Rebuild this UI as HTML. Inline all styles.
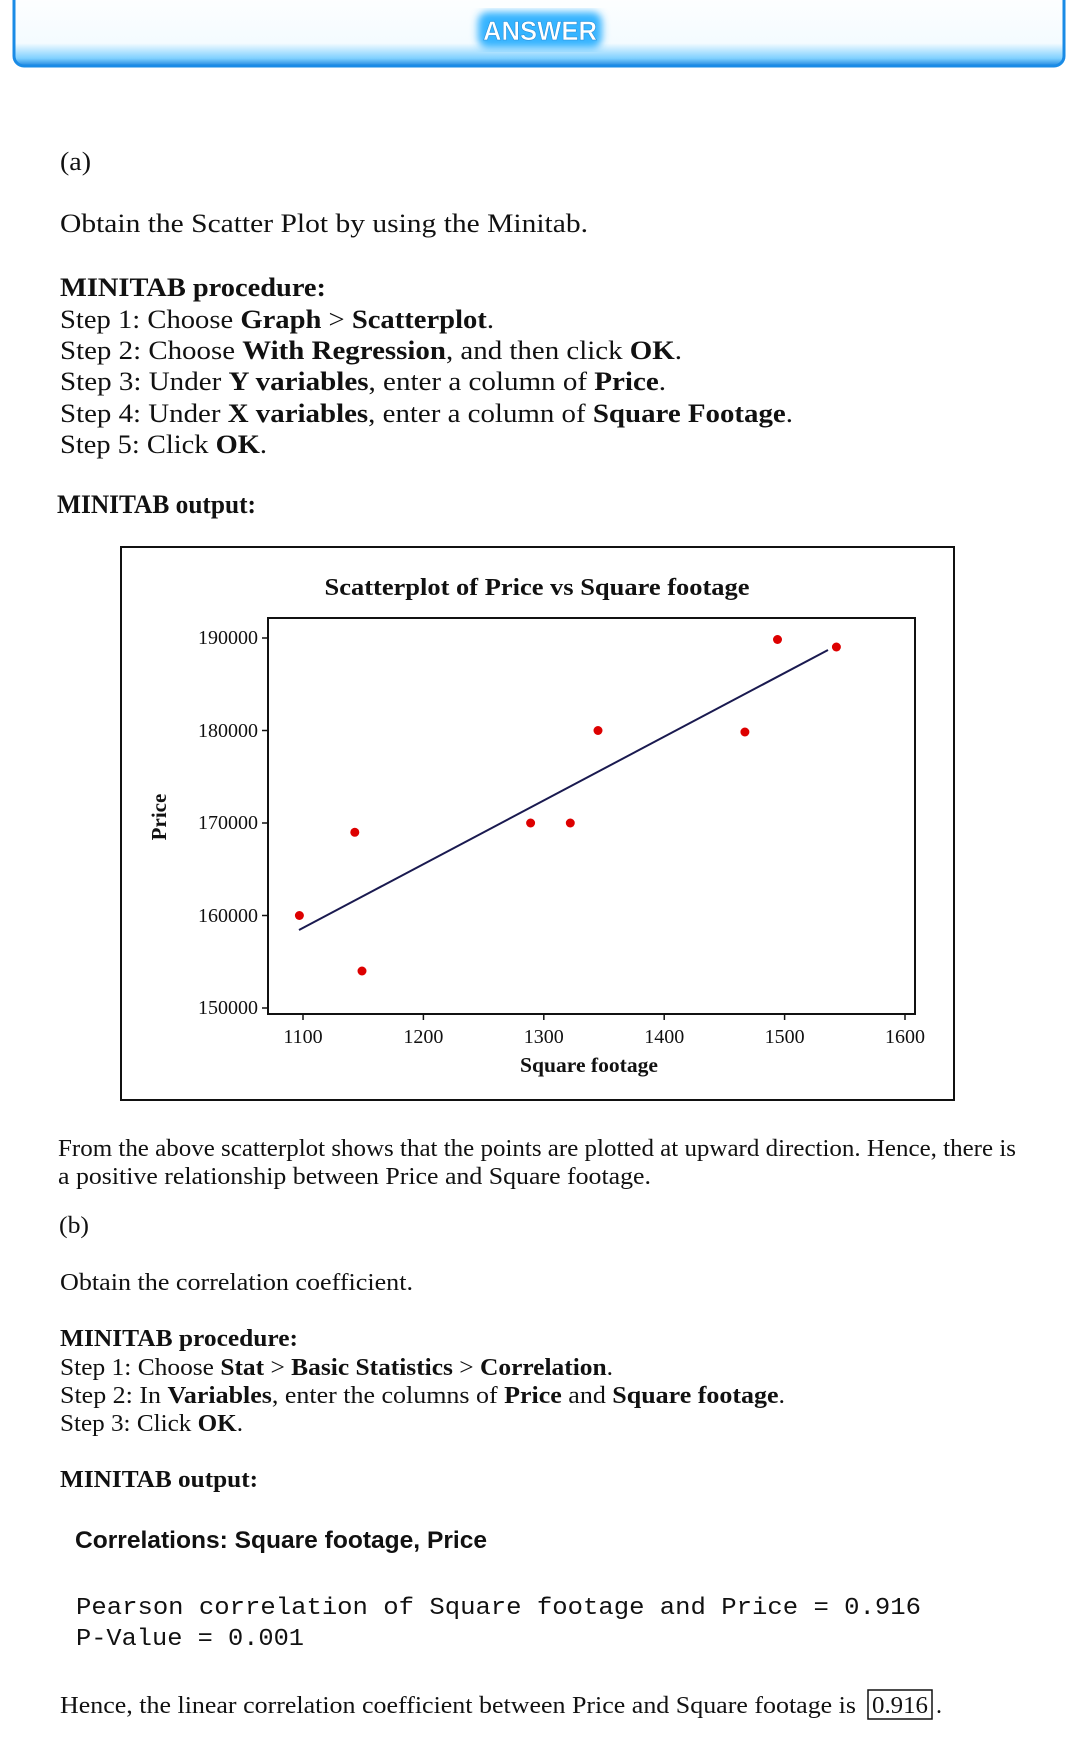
<!DOCTYPE html>
<html><head><meta charset="utf-8"><style>
html,body{margin:0;padding:0;background:#fff}
svg{display:block}
.s{font-family:"Liberation Serif",serif;fill:#111}
.m{font-family:"Liberation Mono",monospace;fill:#111}
.a{font-family:"Liberation Sans",sans-serif;fill:#111}
</style></head><body>
<svg width="1080" height="1745" viewBox="0 0 1080 1745" xmlns="http://www.w3.org/2000/svg">
<defs>
<linearGradient id="hg" x1="0" y1="0" x2="0" y2="1">
<stop offset="0" stop-color="#ffffff"/><stop offset="0.7" stop-color="#f4fbff"/><stop offset="0.9" stop-color="#7fd0ff"/><stop offset="1" stop-color="#1d86e0"/>
</linearGradient>
<filter id="gl"><feGaussianBlur stdDeviation="4"/></filter>
</defs>
<rect x="14" y="-10" width="1050" height="76" rx="10" fill="url(#hg)" stroke="#1a8be6" stroke-width="3"/>
<rect x="478" y="12" width="124" height="36" rx="10" fill="#35b4ff" filter="url(#gl)"/>
<text x="540" y="40" text-anchor="middle" font-family="Liberation Sans,sans-serif" font-weight="bold" font-size="27" fill="#fff" stroke="#2a8fd8" stroke-width="0.6" textLength="114" lengthAdjust="spacingAndGlyphs">ANSWER</text>

<g class="s" font-size="26">
<text x="60" y="170" textLength="31" lengthAdjust="spacingAndGlyphs">(a)</text>
<text x="60" y="232" textLength="528" lengthAdjust="spacingAndGlyphs">Obtain the Scatter Plot by using the Minitab.</text>
<text x="60" y="296" font-weight="bold" textLength="266" lengthAdjust="spacingAndGlyphs">MINITAB procedure:</text>
<text x="60" y="328" textLength="434" lengthAdjust="spacingAndGlyphs">Step 1: Choose <tspan font-weight="bold">Graph</tspan> &gt; <tspan font-weight="bold">Scatterplot</tspan>.</text>
<text x="60" y="359" textLength="622" lengthAdjust="spacingAndGlyphs">Step 2: Choose <tspan font-weight="bold">With Regression</tspan>, and then click <tspan font-weight="bold">OK</tspan>.</text>
<text x="60" y="390" textLength="606" lengthAdjust="spacingAndGlyphs">Step 3: Under <tspan font-weight="bold">Y variables</tspan>, enter a column of <tspan font-weight="bold">Price</tspan>.</text>
<text x="60" y="422" textLength="733" lengthAdjust="spacingAndGlyphs">Step 4: Under <tspan font-weight="bold">X variables</tspan>, enter a column of <tspan font-weight="bold">Square Footage</tspan>.</text>
<text x="60" y="453" textLength="207" lengthAdjust="spacingAndGlyphs">Step 5: Click <tspan font-weight="bold">OK</tspan>.</text>
<text x="57" y="513" font-weight="bold" textLength="199" lengthAdjust="spacingAndGlyphs">MINITAB output:</text>
</g>

<rect x="121" y="547" width="833" height="553" fill="#fff" stroke="#111" stroke-width="2"/>
<text class="s" x="537" y="595" text-anchor="middle" font-size="24" font-weight="bold" textLength="425" lengthAdjust="spacingAndGlyphs">Scatterplot of Price vs Square footage</text>
<rect x="268" y="618" width="647" height="396" fill="#fff" stroke="#111" stroke-width="2"/>
<g stroke="#111" stroke-width="1.5">
<line x1="262" y1="638" x2="268" y2="638"/><line x1="262" y1="730.5" x2="268" y2="730.5"/><line x1="262" y1="823" x2="268" y2="823"/><line x1="262" y1="915.5" x2="268" y2="915.5"/><line x1="262" y1="1008" x2="268" y2="1008"/>
<line x1="303" y1="1014" x2="303" y2="1020"/><line x1="423.4" y1="1014" x2="423.4" y2="1020"/><line x1="543.8" y1="1014" x2="543.8" y2="1020"/><line x1="664.2" y1="1014" x2="664.2" y2="1020"/><line x1="784.6" y1="1014" x2="784.6" y2="1020"/><line x1="905" y1="1014" x2="905" y2="1020"/>
</g>
<g class="s" font-size="20" text-anchor="end">
<text x="258" y="644">190000</text><text x="258" y="737">180000</text><text x="258" y="829">170000</text><text x="258" y="922">160000</text><text x="258" y="1014">150000</text>
</g>
<g class="s" font-size="20" text-anchor="middle">
<text x="303" y="1043">1100</text><text x="423.4" y="1043">1200</text><text x="543.8" y="1043">1300</text><text x="664.2" y="1043">1400</text><text x="784.6" y="1043">1500</text><text x="905" y="1043">1600</text>
</g>
<text class="s" x="589" y="1072" text-anchor="middle" font-size="21" font-weight="bold" textLength="138" lengthAdjust="spacingAndGlyphs">Square footage</text>
<text class="s" transform="translate(166,817) rotate(-90)" text-anchor="middle" font-size="21" font-weight="bold">Price</text>
<line x1="299" y1="930" x2="828" y2="650" stroke="#1a1a50" stroke-width="2"/>
<g fill="#dd0000">
<circle cx="299.4" cy="915.5" r="4.5"/><circle cx="354.8" cy="832.3" r="4.5"/><circle cx="362" cy="971" r="4.5"/><circle cx="530.6" cy="823" r="4.5"/><circle cx="570.3" cy="823" r="4.5"/><circle cx="598" cy="730.5" r="4.5"/><circle cx="744.9" cy="732" r="4.5"/><circle cx="777.5" cy="639.5" r="4.5"/><circle cx="836.4" cy="647" r="4.5"/>
</g>

<g class="s" font-size="24">
<text x="58" y="1156" textLength="958" lengthAdjust="spacingAndGlyphs">From the above scatterplot shows that the points are plotted at upward direction. Hence, there is</text>
<text x="58" y="1184" textLength="593" lengthAdjust="spacingAndGlyphs">a positive relationship between Price and Square footage.</text>
<text x="59" y="1233" textLength="30" lengthAdjust="spacingAndGlyphs">(b)</text>
<text x="60" y="1290" textLength="353" lengthAdjust="spacingAndGlyphs">Obtain the correlation coefficient.</text>
<text x="60" y="1346" font-weight="bold" textLength="238" lengthAdjust="spacingAndGlyphs">MINITAB procedure:</text>
<text x="60" y="1375" textLength="553" lengthAdjust="spacingAndGlyphs">Step 1: Choose <tspan font-weight="bold">Stat</tspan> &gt; <tspan font-weight="bold">Basic Statistics</tspan> &gt; <tspan font-weight="bold">Correlation</tspan>.</text>
<text x="60" y="1403" textLength="725" lengthAdjust="spacingAndGlyphs">Step 2: In <tspan font-weight="bold">Variables</tspan>, enter the columns of <tspan font-weight="bold">Price</tspan> and <tspan font-weight="bold">Square footage</tspan>.</text>
<text x="60" y="1431" textLength="183" lengthAdjust="spacingAndGlyphs">Step 3: Click <tspan font-weight="bold">OK</tspan>.</text>
<text x="60" y="1487" font-weight="bold" textLength="198" lengthAdjust="spacingAndGlyphs">MINITAB output:</text>
</g>
<text class="a" x="75" y="1548" font-size="24" font-weight="bold" textLength="412" lengthAdjust="spacingAndGlyphs">Correlations: Square footage, Price</text>
<text class="m" x="76" y="1614" font-size="24" textLength="845" lengthAdjust="spacingAndGlyphs">Pearson correlation of Square footage and Price = 0.916</text>
<text class="m" x="76" y="1645" font-size="24" textLength="228" lengthAdjust="spacingAndGlyphs">P-Value = 0.001</text>
<text class="s" x="60" y="1713" font-size="24" textLength="796" lengthAdjust="spacingAndGlyphs">Hence, the linear correlation coefficient between Price and Square footage is</text>
<rect x="868" y="1690" width="64" height="29" fill="none" stroke="#111" stroke-width="1.5"/>
<text class="s" x="900" y="1713" font-size="24" text-anchor="middle" textLength="56" lengthAdjust="spacingAndGlyphs">0.916</text>
<text class="s" x="936" y="1713" font-size="24">.</text>
</svg>
</body></html>
